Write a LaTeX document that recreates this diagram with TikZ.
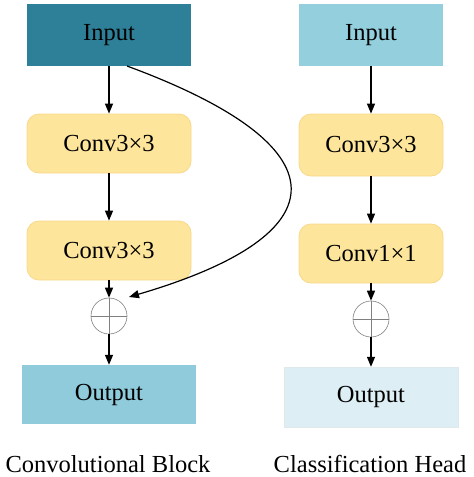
\documentclass[tikz,border=0pt]{standalone}
\usepackage{fontspec}
\setmainfont{Liberation Serif}
\usetikzlibrary{arrows.meta}
\definecolor{tealdark}{HTML}{2E8098}
\definecolor{tealmid}{HTML}{8FCBDB}
\definecolor{teallight}{HTML}{93CFDD}
\definecolor{paleblue}{HTML}{DDEEF5}
\definecolor{convfill}{HTML}{FDE59C}
\definecolor{convline}{HTML}{F8D98A}
\begin{document}
\begin{tikzpicture}[x=1pt,y=-1pt,
  every node/.style={font=\fontsize{24.5}{28}\selectfont, inner sep=0pt},
  boxnode/.style={rectangle, minimum width=#1},
  convbox/.style={rectangle, rounded corners=12pt, fill=convfill, draw=convline, line width=0.8pt, minimum height=59pt},
  sumnode/.style={circle, draw=gray, line width=0.6pt, minimum size=36pt},
  caption/.style={anchor=base},
  arr/.style={-{Stealth[length=10pt,width=8pt,inset=0pt]}, line width=1.3pt, black}
]
\useasboundingbox (0,0) rectangle (474,477);
% left column
\node[boxnode=164pt, minimum height=62pt, fill=tealdark] (inL) at (109,35) {Input};
\node[convbox, minimum width=164pt] (c1L) at (109,143.5) {Conv3×3};
\node[convbox, minimum width=164pt] (c2L) at (109,250.5) {Conv3×3};
\node[sumnode] (sL) at (109,316) {};
\draw[gray, line width=0.6pt] (sL.north) -- (sL.south) (sL.west) -- (sL.east);
\node[boxnode=174pt, minimum height=59pt, fill=tealmid] (outL) at (109,394.5) {Output};
\node[caption] (labL) at (108,472) {Convolutional Block};
\draw[arr] (inL) -- (c1L);
\draw[arr] (c1L) -- (c2L);
\draw[arr] (c2L) -- (sL);
\draw[arr] (sL) -- (outL);
\coordinate (curveS) at (127,66);
\coordinate (curveE) at (129,297);
\draw[arr, line width=1.2pt] (curveS) .. controls (344,146) and (344,234) .. (curveE);
% right column
\node[boxnode=144pt, minimum height=62pt, fill=teallight] (inR) at (371,35) {Input};
\node[convbox, minimum width=144pt, minimum height=62pt] (c1R) at (371,145) {Conv3×3};
\node[convbox, minimum width=144pt] (c2R) at (371,253.5) {Conv1×1};
\node[sumnode] (sR) at (371,319) {};
\draw[gray, line width=0.6pt] (sR.north) -- (sR.south) (sR.west) -- (sR.east);
\node[boxnode=174pt, minimum height=60pt, fill=paleblue, draw=paleblue!80!gray!60] (outR) at (371,397) {Output};
\node[caption] (labR) at (370,472) {Classification Head};
\draw[arr] (inR) -- (c1R);
\draw[arr] (c1R) -- (c2R);
\draw[arr] (c2R) -- (sR);
\draw[arr] (sR) -- (outR);
\end{tikzpicture}
\end{document}
